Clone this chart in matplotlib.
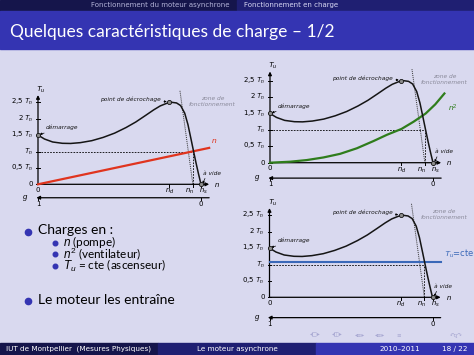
import matplotlib
matplotlib.use("Agg")
import matplotlib.pyplot as plt
from matplotlib.patches import Rectangle

plt.rcParams['mathtext.fontset'] = 'custom'
plt.rcParams['mathtext.rm'] = 'Liberation Sans'
plt.rcParams['mathtext.it'] = 'Liberation Sans:italic'

# motor curve, n in units of n_s, torque in units of T_n
motor_n = [0, 0.04, 0.09, 0.15, 0.2, 0.26, 0.33, 0.4, 0.47, 0.54, 0.6, 0.66,
           0.71, 0.75, 0.79, 0.82, 0.85, 0.875, 0.9, 0.92, 0.94, 0.955, 0.97, 0.985, 1.0]
motor_t = [1.5, 1.38, 1.29, 1.25, 1.245, 1.27, 1.33, 1.43, 1.56, 1.73, 1.9, 2.1,
           2.27, 2.39, 2.47, 2.5, 2.48, 2.4, 2.17, 1.82, 1.35, 0.99, 0.64, 0.31, 0.0]
marker_n = [0, 0.805, 1.0]
marker_t = [1.5, 2.5, 0.0]
n_d, n_n, n_s = 0.805, 0.95, 1.0
tangent_n = [0.871, 0.95]
tangent_t = [2.85, 0.0]

# loads
pump_n = [0, 1.05]
pump_t = [0, 1.11]
fan_n = [0, 0.123, 0.225, 0.328, 0.43, 0.533, 0.635, 0.717, 0.807, 0.881, 0.955, 1.014, 1.07]
fan_t = [0, 0.03, 0.08, 0.16, 0.27, 0.44, 0.66, 0.85, 1.03, 1.25, 1.50, 1.78, 2.11]
lift_n = [0, 1.055]
lift_t = [1.07, 1.07]

y_ticks = [0, 0.5, 1, 1.5, 2, 2.5]
y_labels = ['0', '0,5 $T_n$', '$T_n$', '1,5 $T_n$', '2 $T_n$', '2,5 $T_n$']
x_ticks = [n_d, n_n, n_s]
x_labels = ['$n_d$', '$n_n$', '$n_s$']

W, H = 474, 355
BODY = 'Lato'
fig = plt.figure(figsize=(W / 100, H / 100), dpi=100)
fig.patch.set_facecolor('#d9d9ef')

bg = fig.add_axes([0, 0, 1, 1])
bg.set_xlim(0, W)
bg.set_ylim(H, 0)
bg.axis('off')

# headline, title bar, footline
bg.add_patch(Rectangle((0, 0), 237, 11, color='#15154b'))
bg.add_patch(Rectangle((237, 0), 237, 11, color='#1f1f72'))
bg.add_patch(Rectangle((0, 11), W, 38, color='#3434b2'))
bg.add_patch(Rectangle((0, 343), 158, 12, color='#15154b'))
bg.add_patch(Rectangle((158, 343), 158, 12, color='#1f1f72'))
bg.add_patch(Rectangle((316, 343), 158, 12, color='#3434b2'))

bg.text(230, 5.5, 'Fonctionnement du moteur asynchrone', ha='right', va='center',
        fontsize=5, color='#b4b4d8')
bg.text(244, 5.5, 'Fonctionnement en charge', ha='left', va='center',
        fontsize=5, color='#d8d8f4')
bg.text(10, 37.5, 'Quelques caractéristiques de charge – 1/2', ha='left', va='baseline',
        fontsize=12.5, color='white', family=BODY)
bg.text(79, 349, 'IUT de Montpellier  (Mesures Physiques)', ha='center', va='center',
        fontsize=5.2, color='white')
bg.text(237, 349, 'Le moteur asynchrone', ha='center', va='center', fontsize=5.2, color='white')
bg.text(400, 349, '2010–2011', ha='center', va='center', fontsize=5.2, color='white')
bg.text(455, 349, '18 / 22', ha='center', va='center', fontsize=5.2, color='white')

nav = [(315, '◂□▸'), (337, '◂◫▸'), (360, '◂≡▸'), (380, '◂≡▸'), (399, '≡'), (456, '↶ꝗ↷')]
for x, s in nav:
    bg.text(x, 335, s, ha='center', va='center', fontsize=4, color='#a8a8d2')

# bullets
bg.plot([28], [231.5], 'o', ms=4.5, color='#3434b2')
bg.text(38, 230.5, 'Charges en :', ha='left', va='center', fontsize=10, color='black',
        family=BODY)
subs = ['$n$ (pompe)', '$n^2$ (ventilateur)', '$T_u$ = cte (ascenseur)']
for i, s in enumerate(subs):
    y = 242.5 + i * 11.5
    bg.plot([55], [y], 'o', ms=3.3, color='#3434b2')
    bg.text(63, y, s, ha='left', va='center', fontsize=8.5, color='black', family=BODY)
bg.plot([28], [301], 'o', ms=4.5, color='#3434b2')
bg.text(38, 300.5, 'Le moteur les entraîne', ha='left', va='center', fontsize=10,
        color='black', family=BODY)

N0, N1, T0, T1 = -0.2, 1.2, -0.9, 3.0


def chart(x0, y0, g_y, top_t, sx=163, sy=32.8):
    left, right = x0 + N0 * sx, x0 + N1 * sx
    top, bottom = y0 - T1 * sy, y0 - T0 * sy
    ax = fig.add_axes([left / W, 1 - bottom / H, (right - left) / W, (bottom - top) / H])
    ax.set_xlim(N0, N1)
    ax.set_ylim(T0, T1)
    ax.axis('off')
    ax.patch.set_alpha(0)
    arr = dict(arrowstyle='-|>', lw=0.9, color='black', mutation_scale=5, shrinkA=0, shrinkB=0)
    ax.annotate('', xy=(0, top_t), xytext=(0, 0), arrowprops=arr)
    ax.annotate('', xy=(1.05, 0), xytext=(0, 0), arrowprops=arr)
    ax.annotate('', xy=(-0.01, g_y), xytext=(1.05, g_y), arrowprops=arr)
    ax.text(0.02, top_t + 0.17, '$T_u$', ha='center', va='center', fontsize=5.5)
    ax.text(1.08, 0, '$n$', ha='left', va='center', fontsize=5.5)
    ax.text(-0.06, g_y, '$g$', ha='right', va='center', fontsize=5.5)
    for t, lab in zip(y_ticks, y_labels):
        ax.plot([-0.012, 0.012], [t, t], color='black', lw=0.7)
        ax.text(-0.03, t, lab, ha='right', va='center', fontsize=5)
    for n, lab in zip(x_ticks, x_labels):
        ax.plot([n, n], [0, -0.07], color='black', lw=0.7)
    ax.text(0, -0.08, '0', ha='center', va='top', fontsize=5)
    ax.text(n_d, -0.08, x_labels[0], ha='center', va='top', fontsize=5.5)
    ax.text(n_n - 0.02, -0.08, x_labels[1], ha='center', va='top', fontsize=5.5)
    ax.text(n_s + 0.015, -0.08, x_labels[2], ha='center', va='top', fontsize=5.5)
    for n in [0, 1]:
        ax.plot([n, n], [g_y, g_y - 0.07], color='black', lw=0.7)
    ax.text(0, g_y - 0.1, '1', ha='center', va='top', fontsize=5)
    ax.text(1, g_y - 0.1, '0', ha='center', va='top', fontsize=5)
    ax.plot([0, n_n], [1, 1], color='black', lw=0.6, ls=(0, (2, 1.5)))
    ax.plot([n_n, n_n], [0, 1], color='black', lw=0.6, ls=(0, (2, 1.5)))
    ax.plot(tangent_n, tangent_t, color='#333333', lw=0.7, ls=(0, (1, 1)))
    ax.plot(motor_n, motor_t, color='#151515', lw=1.1, zorder=4)
    ax.plot(marker_n, marker_t, 'o', ms=3, mfc='#8c8c8c', mec='#151515', mew=0.6, zorder=5)
    small = dict(fontsize=4.2, style='italic', color='#151515')
    ax.annotate('point de décrochage', xy=(0.79, 2.52), xytext=(0.755, 2.58),
                ha='right', va='center',
                arrowprops=dict(arrowstyle='-|>', lw=0.5, color='black', mutation_scale=3,
                                shrinkA=0, shrinkB=0), **small)
    ax.annotate('démarrage', xy=(0.01, 1.52), xytext=(0.05, 1.73), ha='left', va='center',
                arrowprops=dict(arrowstyle='-|>', lw=0.5, color='black', mutation_scale=3,
                                shrinkA=0, shrinkB=0), **small)
    ax.annotate('à vide', xy=(1.01, 0.02), xytext=(1.01, 0.34), ha='left', va='center',
                arrowprops=dict(arrowstyle='-|>', lw=0.5, color='black', mutation_scale=3,
                                shrinkA=0, shrinkB=0, relpos=(0.2, 0)), **small)
    ax.text(1.07, 2.53, 'zone de\nfonctionnement', ha='center', va='center', fontsize=4.2,
            style='italic', color='#8a8a9a', linespacing=1.3)
    return ax


ax1 = chart(38, 184.3, -0.41, 2.72)
ax1.plot(pump_n, pump_t, color='#e0341e', lw=1.6, zorder=3)
ax1.text(1.06, 1.33, '$n$', color='#e0341e', ha='left', va='center', fontsize=6)

ax2 = chart(270, 162.7, -0.47, 2.78)
ax2.plot(fan_n, fan_t, color='#2f7d1c', lw=1.6, zorder=3)
ax2.text(1.09, 1.67, '$n^2$', color='#2f7d1c', ha='left', va='center', fontsize=6)

ax3 = chart(269.5, 297.3, -0.62, 2.72)
ax3.plot(lift_n, lift_t, color='#3a68b8', lw=1.5, zorder=3)
ax3.text(1.07, 1.32, '$T_u$=cte', color='#3a68b8', ha='left', va='center', fontsize=6)

fig.savefig('out.png', dpi=100, facecolor=fig.get_facecolor())
